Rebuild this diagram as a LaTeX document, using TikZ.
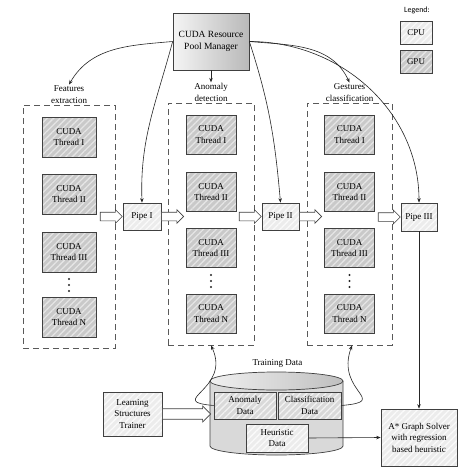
\documentclass[tikz,border=0pt]{standalone}
\usepackage{fontspec}
\setmainfont{Liberation Serif}
\newfontfamily\legendfont{Carlito}
\usetikzlibrary{shapes.arrows,arrows.meta,patterns.meta,shadings}
\begin{document}
\begin{tikzpicture}[x=1pt,y=1pt,
  txt/.style={font=\fontsize{9}{11.5}\selectfont, align=center, inner sep=1pt},
  boxbase/.style={txt, draw=black!75, line width=0.7pt},
  gpu/.style={boxbase, preaction={fill=gray!42}, preaction={pattern={Lines[angle=45,distance=4.5pt,line width=1.3pt]}, pattern color=gray!20}},
  cpu/.style={boxbase, preaction={fill=gray!15}, preaction={pattern={Lines[angle=45,distance=4.5pt,line width=1.3pt]}, pattern color=gray!4}},
  datab/.style={boxbase, preaction={fill=gray!30}, preaction={pattern={Lines[angle=45,distance=4.5pt,line width=1.3pt]}, pattern color=gray!10}},
  mgrst/.style={boxbase, font=\fontsize{9.5}{12}\selectfont, left color=gray!8, right color=gray!55},
  dbox/.style={draw=black!65, line width=0.8pt, dash pattern=on 6pt off 4pt},
  arr/.style={-{Stealth[length=4.5pt,width=3.5pt]}, line width=0.6pt, draw=black!85},
  barrow/.style={single arrow, draw=black!75, line width=0.6pt, fill=white, minimum height=22, minimum width=12, single arrow head extend=2.5pt, inner sep=4pt},
  dot/.style={circle, fill=black!85, inner sep=0pt, minimum size=2.2pt}
]
\fill[white] (0,0) rectangle (474,-471);
\useasboundingbox (0,0) rectangle (474,-471);

% manager
\node[mgrst, minimum width=76, minimum height=57] (mgr) at (211,-41.5) {CUDA Resource\\Pool Manager};

% legend
\node[font=\legendfont\fontsize{8}{9}\selectfont] (leg) at (417,-10) {Legend:};
\node[cpu, minimum width=32, minimum height=23] (lcpu) at (416,-32.5) {CPU};
\node[gpu, minimum width=32, minimum height=23] (lgpu) at (416,-61.5) {GPU};

% stage labels
\node[txt] (fe) at (69,-94.5) {Features\\extraction};
\node[txt] (ad) at (211,-92.5) {Anomaly\\detection};
\node[txt] (gc) at (349.5,-92.5) {Gestures\\classification};

% dashed stage boxes
\node[dbox, minimum width=92, minimum height=243] (lbox) at (69,-226.5) {};
\node[dbox, minimum width=86, minimum height=242] (mbox) at (211,-224) {};
\node[dbox, minimum width=85, minimum height=242] (rbox) at (349.5,-224) {};

% left column threads
\node[gpu, minimum width=54, minimum height=40] (l1) at (69,-137) {CUDA\\Thread I};
\node[gpu, minimum width=54, minimum height=40] (l2) at (69,-194) {CUDA\\Thread II};
\node[gpu, minimum width=54, minimum height=40] (l3) at (69,-252) {CUDA\\Thread III};
\node[dot] (ld1) at (69,-279) {};
\node[dot] (ld2) at (69,-285) {};
\node[dot] (ld3) at (69,-291) {};
\node[gpu, minimum width=54, minimum height=40] (l4) at (69,-317) {CUDA\\Thread N};

% middle column threads
\node[gpu, minimum width=50, minimum height=39] (m1) at (211,-134.5) {CUDA\\Thread I};
\node[gpu, minimum width=50, minimum height=39] (m2) at (211,-192) {CUDA\\Thread II};
\node[gpu, minimum width=50, minimum height=39] (m3) at (211,-248) {CUDA\\Thread III};
\node[dot] (md1) at (211,-275) {};
\node[dot] (md2) at (211,-281) {};
\node[dot] (md3) at (211,-287) {};
\node[gpu, minimum width=50, minimum height=39] (m4) at (211,-313.5) {CUDA\\Thread N};

% right column threads
\node[gpu, minimum width=50, minimum height=39] (r1) at (349.5,-134.5) {CUDA\\Thread I};
\node[gpu, minimum width=50, minimum height=39] (r2) at (349.5,-192) {CUDA\\Thread II};
\node[gpu, minimum width=50, minimum height=39] (r3) at (349.5,-248) {CUDA\\Thread III};
\node[dot] (rd1) at (349.5,-275) {};
\node[dot] (rd2) at (349.5,-281) {};
\node[dot] (rd3) at (349.5,-287) {};
\node[gpu, minimum width=50, minimum height=39] (r4) at (349.5,-313.5) {CUDA\\Thread N};

% pipes
\node[cpu, minimum width=38, minimum height=27] (p1) at (142,-216.5) {Pipe I};
\node[cpu, minimum width=37, minimum height=27] (p2) at (280.5,-216.5) {Pipe II};
\node[cpu, minimum width=36, minimum height=28] (p3) at (419,-217) {Pipe III};

% block arrows
\node[barrow, anchor=tip] (b1) at (p1.west) {};
\node[barrow, anchor=tail] (b2) at (p1.east) {};
\node[barrow, anchor=tip] (b3) at (p2.west) {};
\node[barrow, anchor=tail] (b4) at (p2.east) {};
\node[barrow, anchor=tip] (b5) at (p3.west) {};

% training data cylinder
\draw[black!75, line width=0.7pt, fill=gray!30] (210,-381) -- (210,-446) arc[start angle=180, end angle=360, x radius=66.5, y radius=9] -- (343,-381);
\draw[black!75, line width=0.7pt, left color=gray!12, right color=gray!50] (276.5,-381) ellipse[x radius=66.5, y radius=9];
\node[txt] (td) at (277.5,-363) {Training Data};

\node[datab, minimum width=62, minimum height=27] (and) at (245,-405.5) {Anomaly\\Data};
\node[datab, minimum width=63, minimum height=27] (cld) at (309.5,-405.5) {Classification\\Data};
\node[cpu, minimum width=62, minimum height=28] (hd) at (277,-438) {Heuristic\\Data};

% trainer and solver
\node[cpu, minimum width=59, minimum height=44] (lst) at (132.5,-414) {Learning\\Structures\\Trainer};
\node[barrow, minimum height=48, minimum width=16, inner sep=4.5pt, anchor=tail] (b6) at (lst.east) {};
\node[cpu, minimum width=76, minimum height=57] (ast) at (419,-437.5) {A* Graph Solver\\with regression\\based heuristic};

% connectors
\draw[arr] (mgr.west) to[out=185,in=60] (fe.north);
\draw[arr] (mgr.south) -- (ad.north);
\draw[arr] (mgr.west) to[out=-105,in=92] (p1.north);
\draw[arr] (mgr.east) to[out=-5,in=115] (gc.north);
\draw[arr] (mgr.east) to[out=-72,in=95] (p2.north);
\draw[arr] (mgr.east) to[out=0,in=90] (p3.north);
\draw[arr] (p3.south) -- (ast.north);
\draw[arr] (and.west) to[out=175,in=-65,looseness=2.1] (mbox.south);
\draw[arr] (cld.east) to[out=5,in=-110,looseness=2.1] ([xshift=2.5pt]rbox.south);
\draw[arr] (hd.east) -- (ast.west);
\end{tikzpicture}
\end{document}
